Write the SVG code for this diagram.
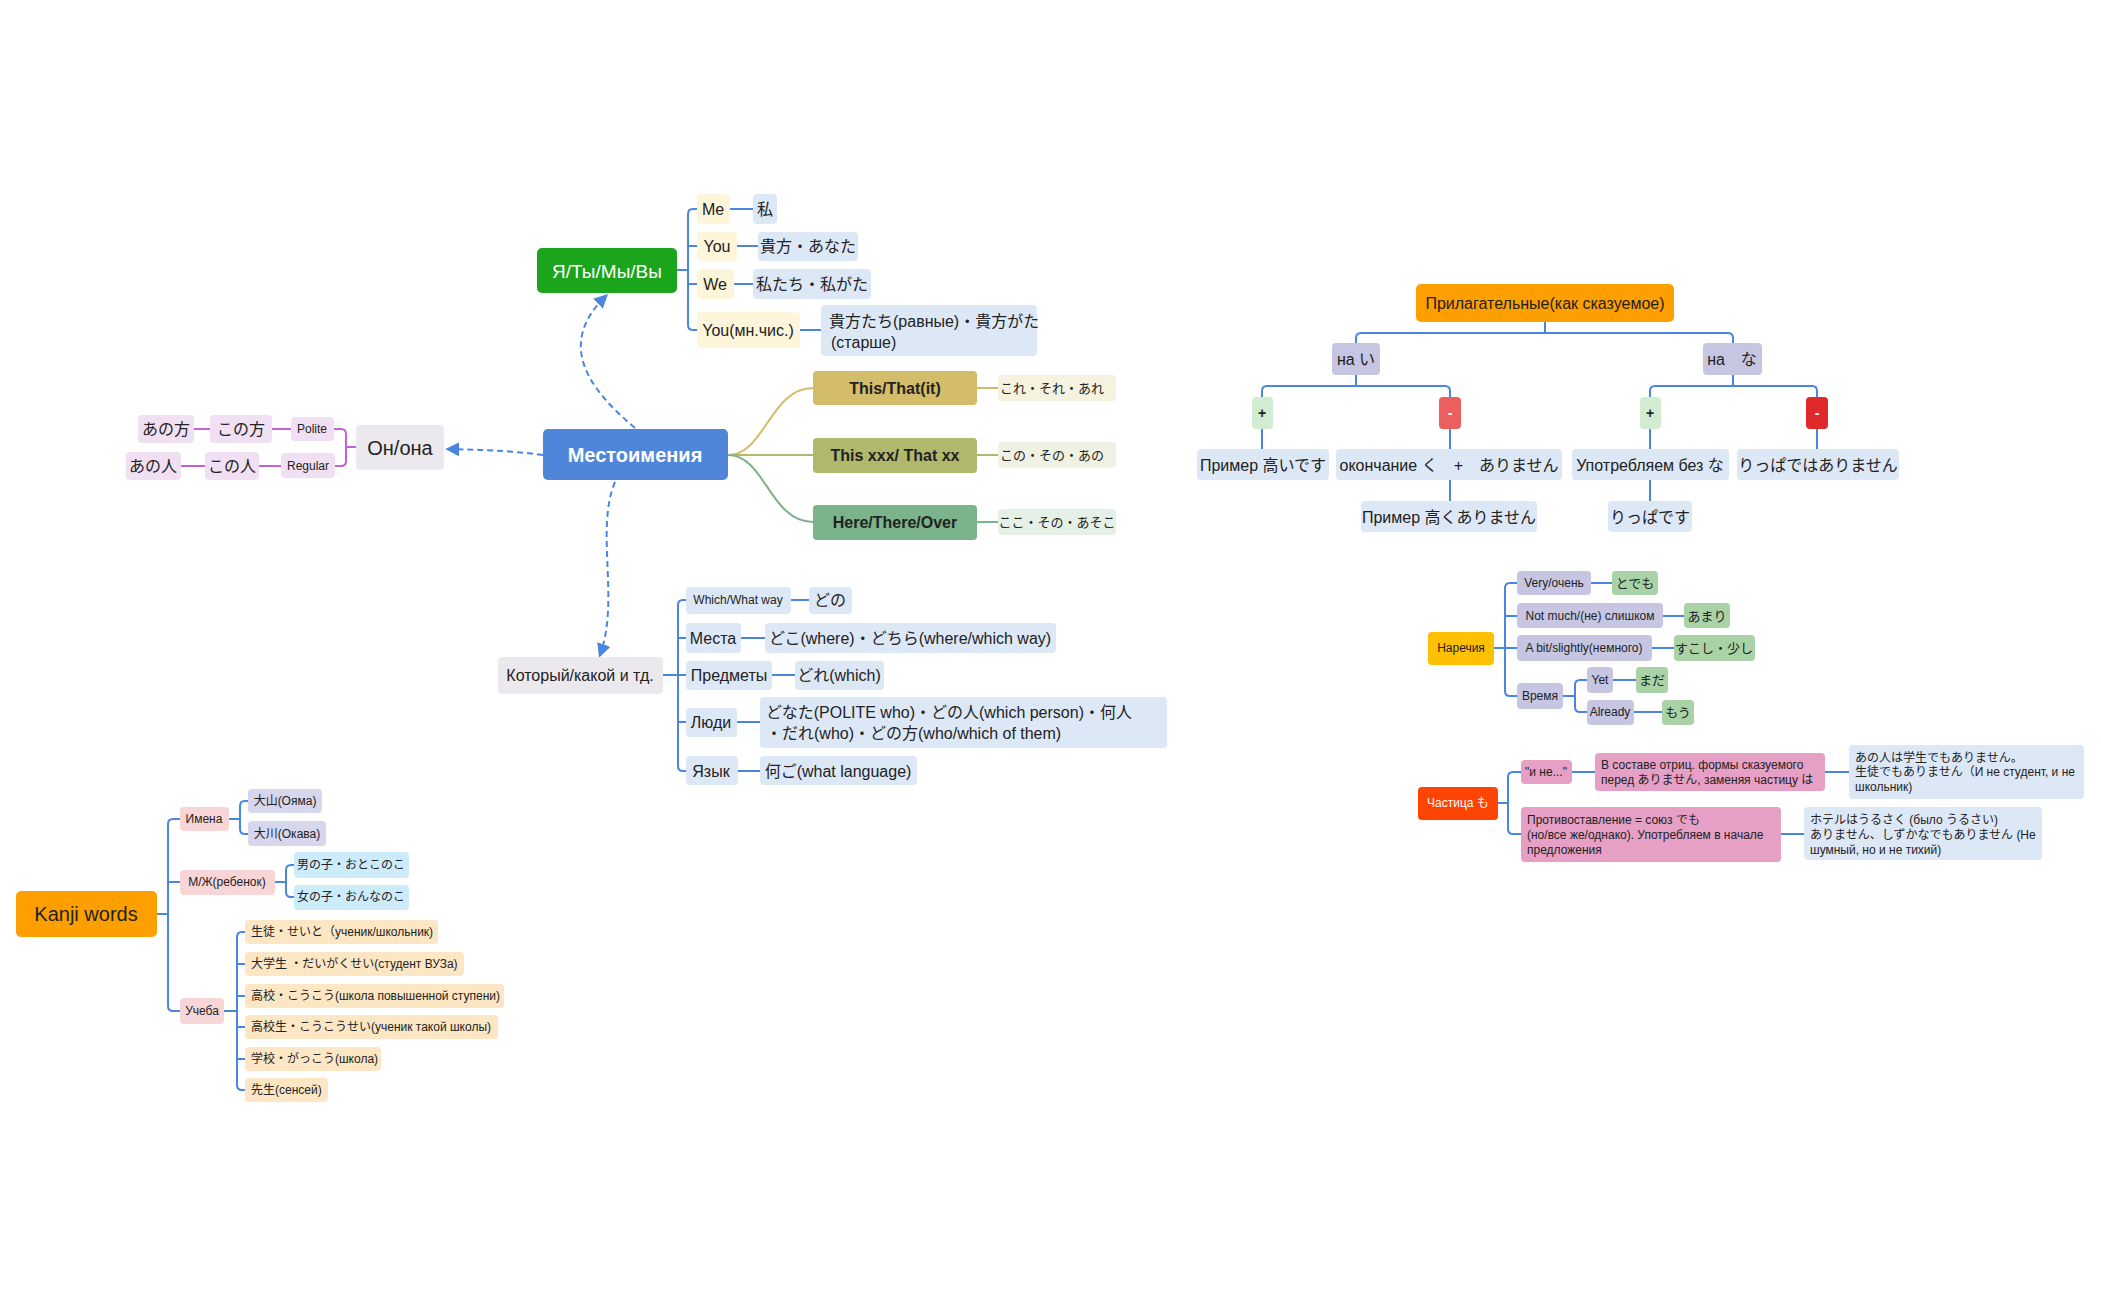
<svg xmlns="http://www.w3.org/2000/svg" width="2101" height="1300" viewBox="0 0 2101 1300">
<defs>
<style>
text{font-family:"Liberation Sans","Noto Sans CJK JP",sans-serif;fill:#222;dominant-baseline:central;text-anchor:middle}
.c{fill:none;stroke:#4a86e0;stroke-width:2}
.p{fill:none;stroke:#c462d2;stroke-width:2}
.d{fill:none;stroke:#4a86e0;stroke-width:2;stroke-dasharray:6 4}
.yl{fill:#fef5da}.bl{fill:#dde8f7}.gr{fill:#ebe9ee}.pk{fill:#f1e0f3}
.pu{fill:#c6c6e2}.gn{fill:#a9d3a6}.rp{fill:#f8d6d8}.lv{fill:#d6d6ec}.sk{fill:#ccebfb}.or{fill:#fde6c4}
.s16{font-size:16px}.s13{font-size:13px}.s12{font-size:12px}.w{fill:#fff}
</style>
<marker id="ar" viewBox="0 0 10 10" refX="8" refY="5" markerWidth="7" markerHeight="7" orient="auto"><path d="M0 0L10 5L0 10z" fill="#4a86e0"/></marker>
</defs>
<rect width="2101" height="1300" fill="#fff"/>
<g id="connectors">
<path class="d" d="M635 428C590 390 555 345 606 296" marker-end="url(#ar)"/>
<path class="d" d="M543 455C505 450 480 450 448 449" marker-end="url(#ar)"/>
<path class="d" d="M615 482C595 530 620 600 600 655" marker-end="url(#ar)"/>
<path class="c" d="M677 270H688M697 209H693Q688 209 688 214V325Q688 330 693 330H697M688 246H697M688 284H697M730 209H753M737 246H758M734 284H753M800 330H821"/>
<path fill="none" stroke="#d4bd6a" stroke-width="2" d="M728 455C765 455 770 388 813 388M977 388H998"/>
<path fill="none" stroke="#b0b86c" stroke-width="2" d="M728 455H813M977 455H998"/>
<path fill="none" stroke="#7bb38a" stroke-width="2" d="M728 455C765 455 770 522 813 522M977 522H998"/>
<path class="p" d="M356 447H346M334 429H341Q346 429 346 434V461Q346 466 341 466H335M272 429H291M194 429H210M259 466H281M181 466H205"/>
<path class="c" d="M663 675H678M686 600H683Q678 600 678 605V766Q678 771 683 771H686M678 638H686M678 675H686M678 722H686M791 600H809M741 638H765M772 675H795M737 722H760M738 771H760"/>
<path class="c" d="M1545 322V333M1356 343V338Q1356 333 1361 333H1728Q1733 333 1733 338V343M1356 375V386M1262 397V391Q1262 386 1267 386H1445Q1450 386 1450 391V397M1262 429V449M1450 429V449M1450 480V501M1733 375V386M1650 397V391Q1650 386 1655 386H1812Q1817 386 1817 391V397M1650 429V449M1817 429V449M1650 480V501"/>
<path class="c" d="M1494 648H1505M1517 583H1510Q1505 583 1505 588V691Q1505 696 1510 696H1517M1505 616H1517M1505 648H1517M1591 583H1612M1663 616H1684M1652 648H1674M1563 696H1575M1587 680H1580Q1575 680 1575 685V707Q1575 712 1580 712H1587M1613 680H1636M1634 712H1662"/>
<path class="c" d="M1498 803H1508M1521 772H1513Q1508 772 1508 777V829Q1508 834 1513 834H1521M1572 772H1595M1825 772H1849M1781 834H1804"/>
<path class="c" d="M157 914H168M180 819H173Q168 819 168 824V1006Q168 1011 173 1011H180M168 882H180M229 819H240M248 801H245Q240 801 240 806V829Q240 834 245 834H248M275 882H286M294 865H291Q286 865 286 870V892Q286 897 291 897H294M224 1011H237M245 932H242Q237 932 237 937V1085Q237 1090 242 1090H245M237 964H245M237 996H245M237 1027H245M237 1059H245"/>
</g>
<g id="n-ya"><rect x="537" y="248" width="140" height="45" rx="5" fill="#1ba51c"/><text x="607" y="271" font-size="19" class="w">Я/Ты/Мы/Вы</text></g>
<g id="n-me"><rect class="yl" x="697" y="194" width="33" height="30" rx="4"/><text class="s16" x="713" y="209">Me</text><rect class="bl" x="753" y="194" width="24" height="30" rx="4"/><text class="s16" x="765" y="209">私</text></g>
<g id="n-you"><rect class="yl" x="697" y="232" width="40" height="29" rx="4"/><text class="s16" x="717" y="246">You</text><rect class="bl" x="758" y="232" width="100" height="29" rx="4"/><text class="s16" x="808" y="246">貴方・あなた</text></g>
<g id="n-we"><rect class="yl" x="697" y="269" width="37" height="30" rx="4"/><text class="s16" x="715" y="284">We</text><rect class="bl" x="753" y="269" width="118" height="30" rx="4"/><text class="s16" x="812" y="284">私たち・私がた</text></g>
<g id="n-youpl"><rect class="yl" x="697" y="312" width="103" height="36" rx="4"/><text class="s16" x="748" y="330">You(мн.чис.)</text><rect class="bl" x="821" y="305" width="216" height="51" rx="4"/><text class="s16" x="829" y="321" text-anchor="start" style="text-anchor:start">貴方たち(равные)・貴方がた</text><text class="s16" x="831" y="342" style="text-anchor:start">(старше)</text></g>
<g id="n-main"><rect x="543" y="429" width="185" height="51" rx="5" fill="#4f86d9"/><text x="635" y="455" font-size="20" font-weight="bold" class="w">Местоимения</text></g>
<g id="n-this"><rect x="813" y="371" width="164" height="34" rx="4" fill="#d4bd6a"/><text x="895" y="388" class="s16" font-weight="bold">This/That(it)</text><rect x="998" y="375" width="118" height="26" rx="4" fill="#f5f2e0"/><text class="s13" x="1052" y="388" fill="#555">これ・それ・あれ</text></g>
<g id="n-thisxx"><rect x="813" y="438" width="164" height="35" rx="4" fill="#b0b86c"/><text x="895" y="455" class="s16" font-weight="bold">This xxx/ That xx</text><rect x="998" y="442" width="118" height="26" rx="4" fill="#eff1e2"/><text class="s13" x="1052" y="455">この・その・あの</text></g>
<g id="n-here"><rect x="813" y="505" width="164" height="35" rx="4" fill="#7bb38a"/><text x="895" y="522" class="s16" font-weight="bold">Here/There/Over</text><rect x="998" y="509" width="118" height="26" rx="4" fill="#e5f0e7"/><text class="s13" x="1057" y="522">ここ・その・あそこ</text></g>
<g id="n-on"><rect class="gr" x="356" y="425" width="88" height="45" rx="4"/><text x="400" y="448" font-size="20">Он/она</text></g>
<g id="n-polite"><rect class="pk" x="291" y="417" width="43" height="24" rx="4"/><text class="s12" x="312" y="429">Polite</text><rect class="pk" x="210" y="415" width="62" height="28" rx="4"/><text class="s16" x="241" y="429">この方</text><rect class="pk" x="138" y="415" width="56" height="28" rx="4"/><text class="s16" x="166" y="429">あの方</text></g>
<g id="n-regular"><rect class="pk" x="281" y="453" width="54" height="25" rx="4"/><text class="s12" x="308" y="466">Regular</text><rect class="pk" x="205" y="452" width="54" height="28" rx="4"/><text class="s16" x="232" y="466">この人</text><rect class="pk" x="126" y="452" width="55" height="28" rx="4"/><text class="s16" x="153" y="466">あの人</text></g>
<g id="n-which"><rect class="gr" x="498" y="657" width="165" height="37" rx="4"/><text class="s16" x="580" y="675">Который/какой и тд.</text></g>
<g id="n-w1"><rect class="bl" x="686" y="587" width="105" height="27" rx="4"/><text class="s12" x="738" y="600">Which/What way</text><rect class="bl" x="809" y="587" width="43" height="27" rx="4"/><text class="s16" x="830" y="600">どの</text></g>
<g id="n-w2"><rect class="bl" x="686" y="623" width="55" height="30" rx="4"/><text class="s16" x="713" y="638">Места</text><rect class="bl" x="765" y="623" width="291" height="30" rx="4"/><text class="s16" x="910" y="638">どこ(where)・どちら(where/which way)</text></g>
<g id="n-w3"><rect class="bl" x="686" y="661" width="86" height="29" rx="4"/><text class="s16" x="729" y="675">Предметы</text><rect class="bl" x="795" y="661" width="89" height="29" rx="4"/><text class="s16" x="839" y="675">どれ(which)</text></g>
<g id="n-w4"><rect class="bl" x="686" y="708" width="51" height="29" rx="4"/><text class="s16" x="711" y="722">Люди</text><rect class="bl" x="760" y="697" width="407" height="51" rx="4"/><text class="s16" x="766" y="712" style="text-anchor:start">どなた(POLITE who)・どの人(which person)・何人</text><text class="s16" x="766" y="733" style="text-anchor:start">・だれ(who)・どの方(who/which of them)</text></g>
<g id="n-w5"><rect class="bl" x="686" y="756" width="52" height="29" rx="4"/><text class="s16" x="711" y="771">Язык</text><rect class="bl" x="760" y="756" width="157" height="29" rx="4"/><text class="s16" x="838" y="771">何ご(what language)</text></g>
<g id="n-adj"><rect x="1416" y="284" width="258" height="38" rx="5" fill="#fe9f00"/><text class="s16" x="1545" y="303">Прилагательные(как сказуемое)</text></g>
<g id="n-nai"><rect class="pu" x="1332" y="343" width="48" height="32" rx="4"/><text class="s16" x="1356" y="359">на い</text></g>
<g id="n-nana"><rect class="pu" x="1703" y="343" width="59" height="32" rx="4"/><text class="s16" x="1732" y="359">на　な</text></g>
<g id="n-p1"><rect x="1252" y="397" width="21" height="32" rx="4" fill="#d2ecd2"/><text x="1262" y="413" font-size="14" font-weight="bold">+</text></g>
<g id="n-m1"><rect x="1439" y="397" width="22" height="32" rx="4" fill="#eb5f5f"/><text x="1450" y="413" font-size="14" font-weight="bold" class="w">-</text></g>
<g id="n-p2"><rect x="1640" y="397" width="21" height="32" rx="4" fill="#d2ecd2"/><text x="1650" y="413" font-size="14" font-weight="bold">+</text></g>
<g id="n-m2"><rect x="1806" y="397" width="22" height="32" rx="4" fill="#e0292b"/><text x="1817" y="413" font-size="14" font-weight="bold" class="w">-</text></g>
<g id="n-a1"><rect class="bl" x="1197" y="449" width="132" height="31" rx="4"/><text class="s16" x="1263" y="465">Пример 高いです</text></g>
<g id="n-a2"><rect class="bl" x="1336" y="449" width="226" height="31" rx="4"/><text class="s16" x="1449" y="465">окончание く　+　ありません</text></g>
<g id="n-a3"><rect class="bl" x="1572" y="449" width="157" height="31" rx="4"/><text class="s16" x="1650" y="465">Употребляем без な</text></g>
<g id="n-a4"><rect class="bl" x="1737" y="449" width="162" height="31" rx="4"/><text class="s16" x="1818" y="465">りっぱではありません</text></g>
<g id="n-a5"><rect class="bl" x="1361" y="501" width="176" height="31" rx="4"/><text class="s16" x="1449" y="517">Пример 高くありません</text></g>
<g id="n-a6"><rect class="bl" x="1608" y="501" width="84" height="31" rx="4"/><text class="s16" x="1650" y="517">りっぱです</text></g>
<g id="n-adv"><rect x="1428" y="632" width="66" height="33" rx="4" fill="#fec003"/><text class="s12" x="1461" y="648">Наречия</text></g>
<g id="n-v1"><rect class="pu" x="1517" y="571" width="74" height="24" rx="4"/><text class="s12" x="1554" y="583">Very/очень</text><rect class="gn" x="1612" y="571" width="46" height="24" rx="4"/><text class="s13" x="1635" y="583">とでも</text></g>
<g id="n-v2"><rect class="pu" x="1517" y="603" width="146" height="25" rx="4"/><text class="s12" x="1590" y="616">Not much/(не) слишком</text><rect class="gn" x="1684" y="603" width="46" height="25" rx="4"/><text class="s13" x="1707" y="616">あまり</text></g>
<g id="n-v3"><rect class="pu" x="1517" y="635" width="135" height="26" rx="4"/><text class="s12" x="1584" y="648">A bit/slightly(немного)</text><rect class="gn" x="1674" y="635" width="81" height="26" rx="4"/><text class="s13" x="1714" y="648">すこし・少し</text></g>
<g id="n-v4"><rect class="pu" x="1517" y="683" width="46" height="26" rx="4"/><text class="s12" x="1540" y="696">Время</text></g>
<g id="n-v5"><rect class="pu" x="1587" y="667" width="26" height="26" rx="4"/><text class="s12" x="1600" y="680">Yet</text><rect class="gn" x="1636" y="667" width="32" height="26" rx="4"/><text class="s13" x="1652" y="680">まだ</text></g>
<g id="n-v6"><rect class="pu" x="1587" y="700" width="47" height="25" rx="4"/><text class="s12" x="1610" y="712">Already</text><rect class="gn" x="1662" y="700" width="32" height="25" rx="4"/><text class="s13" x="1678" y="712">もう</text></g>
<g id="n-mo"><rect x="1418" y="787" width="80" height="33" rx="4" fill="#fe4403"/><text class="s12 w" x="1458" y="803">Частица も</text></g>
<g id="n-mo1"><rect x="1521" y="760" width="51" height="24" rx="4" fill="#e6a0c6"/><text class="s12" x="1546" y="772">"и не..."</text></g>
<g id="n-mo2"><rect x="1595" y="753" width="230" height="38" rx="4" fill="#e6a0c6"/><text class="s12" x="1601" y="765" style="text-anchor:start">В составе отриц. формы сказуемого</text><text class="s12" x="1601" y="780" style="text-anchor:start">перед ありません, заменяя частицу は</text></g>
<g id="n-mo3"><rect class="bl" x="1849" y="745" width="235" height="54" rx="4"/><text class="s12" x="1855" y="758" style="text-anchor:start">あの人は学生でもありません。</text><text class="s12" x="1855" y="772" style="text-anchor:start">生徒でもありません（И не студент, и не</text><text class="s12" x="1855" y="787" style="text-anchor:start">школьник)</text></g>
<g id="n-mo4"><rect x="1521" y="807" width="260" height="55" rx="4" fill="#e6a0c6"/><text class="s12" x="1527" y="820" style="text-anchor:start">Противоставление = союз でも</text><text class="s12" x="1527" y="835" style="text-anchor:start">(но/все же/однако). Употребляем в начале</text><text class="s12" x="1527" y="850" style="text-anchor:start">предложения</text></g>
<g id="n-mo5"><rect class="bl" x="1804" y="807" width="238" height="53" rx="4"/><text class="s12" x="1810" y="820" style="text-anchor:start">ホテルはうるさく (было うるさい)</text><text class="s12" x="1810" y="835" style="text-anchor:start">ありません、しずかなでもありません (Не</text><text class="s12" x="1810" y="850" style="text-anchor:start">шумный, но и не тихий)</text></g>
<g id="n-kanji"><rect x="16" y="891" width="141" height="46" rx="5" fill="#fe9f00"/><text x="86" y="914" font-size="20" font-family="Lato,sans-serif">Kanji words</text></g>
<g id="n-k1"><rect class="rp" x="180" y="807" width="49" height="24" rx="4"/><text class="s12" x="204" y="819">Имена</text><rect class="lv" x="248" y="789" width="74" height="24" rx="4"/><text class="s12" x="285" y="801">大山(Оямa)</text><rect class="lv" x="248" y="821" width="78" height="25" rx="4"/><text class="s12" x="287" y="834">大川(Окава)</text></g>
<g id="n-k2"><rect class="rp" x="180" y="870" width="95" height="25" rx="4"/><text class="s12" x="227" y="882">М/Ж(ребенок)</text><rect class="sk" x="294" y="852" width="115" height="26" rx="4"/><text class="s12" x="351" y="865">男の子・おとこのこ</text><rect class="sk" x="294" y="885" width="115" height="25" rx="4"/><text class="s12" x="351" y="897">女の子・おんなのこ</text></g>
<g id="n-k3"><rect class="rp" x="180" y="998" width="44" height="26" rx="4"/><text class="s12" x="202" y="1011">Учеба</text>
<rect class="or" x="245" y="920" width="193" height="24" rx="4"/><text class="s12" x="251" y="932" style="text-anchor:start">生徒・せいと（ученик/школьник)</text>
<rect class="or" x="245" y="952" width="219" height="24" rx="4"/><text class="s12" x="251" y="964" style="text-anchor:start">大学生 ・だいがくせい(студент ВУЗа)</text>
<rect class="or" x="245" y="984" width="259" height="24" rx="4"/><text class="s12" x="251" y="996" style="text-anchor:start">高校・こうこう(школа повышенной ступени)</text>
<rect class="or" x="245" y="1015" width="253" height="24" rx="4"/><text class="s12" x="251" y="1027" style="text-anchor:start">高校生・こうこうせい(ученик такой школы)</text>
<rect class="or" x="245" y="1047" width="136" height="24" rx="4"/><text class="s12" x="251" y="1059" style="text-anchor:start">学校・がっこう(школа)</text>
<rect class="or" x="245" y="1078" width="83" height="24" rx="4"/><text class="s12" x="251" y="1090" style="text-anchor:start">先生(сенсей)</text></g>
</svg>
